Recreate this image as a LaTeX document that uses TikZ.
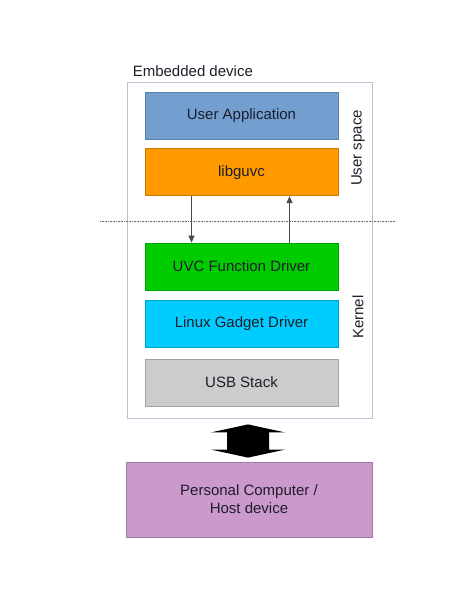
\documentclass[tikz,border=0pt]{standalone}
\usepackage{fontspec}
\setmainfont{Liberation Sans}
\usepackage{tikz}
\usetikzlibrary{arrows.meta,positioning,calc}
\definecolor{appblue}{HTML}{729FCF}
\definecolor{liborange}{HTML}{FF9900}
\definecolor{uvcgreen}{HTML}{00CC00}
\definecolor{gadgetcyan}{HTML}{00CCFF}
\definecolor{usbgray}{HTML}{CCCCCC}
\definecolor{hostpurple}{HTML}{CC99CC}
\definecolor{framegray}{HTML}{B4C4D6}
\definecolor{txtdark}{HTML}{1E1E2A}

\begin{document}
\begin{tikzpicture}[
  x=1pt,y=-1pt,
  node distance=8.5pt,
  layer/.style={rectangle,draw=#1!80!black,fill=#1,line width=0.8pt,minimum width=193pt,minimum height=47pt,inner sep=0pt,align=center,text=txtdark,font=\fontsize{15}{18}\selectfont},
  side/.style={rotate=90,inner sep=0pt,text=txtdark,font=\fontsize{15}{18}\selectfont},
  >={Triangle[length=7pt,width=6pt]}]
  \useasboundingbox (0,0) rectangle (474,613);
  % embedded device frame
  \node[draw=framegray,line width=0.8pt,minimum width=245pt,minimum height=336pt,inner sep=0pt] (emb) at (249.5,250) {};
  \node[anchor=base west,inner sep=0pt,text=txtdark,font=\fontsize{15}{18}\selectfont] (embl) at ([xshift=6pt,yshift=5pt]emb.north west) {Embedded device};
  % software stack
  \node[layer=appblue] (app) at (241.5,116) {User Application};
  \node[layer=liborange,below=of app] (lib) {libguvc};
  \node[layer=uvcgreen,below=46.4pt of lib] (uvc) {UVC Function Driver};
  \node[layer=gadgetcyan,below=9.2pt of uvc] (gad) {Linux Gadget Driver};
  \node[layer=usbgray,below=11.2pt of gad] (usb) {USB Stack};
  \node[side] (us) at (358,148) {User space};
  \node[side] (kn) at (358,317) {Kernel};
  % user / kernel boundary
  \coordinate (sepl) at (100,221);
  \coordinate (sepr) at (396,221);
  \draw[densely dotted,gray!80!black,line width=0.6pt] (sepl) -- (sepr);
  \draw[->,black!70,line width=0.7pt] ([xshift=-50pt]lib.south) -- ([xshift=-50pt]uvc.north);
  \draw[->,black!70,line width=0.7pt] ([xshift=48pt]uvc.north) -- ([xshift=48pt]lib.south);
  % host
  \node[layer=hostpurple,minimum width=246pt,minimum height=75pt] (pc) at (249,499.5) {Personal Computer /\\Host device};
  \coordinate (dt) at ([xshift=-1.5pt,yshift=-6pt]emb.south);
  \coordinate (db) at ([xshift=-1pt,yshift=4pt]pc.north);
  \fill[black] (dt) -- ++(37,8) -- ++(-16,0) -- ($(db)+(21,-8)$) -- ++(16,0) -- (db)
    -- ++(-37,-8) -- ++(16,0) -- ($(dt)+(-21,8)$) -- ++(-16,0) -- cycle;
\end{tikzpicture}
\end{document}
